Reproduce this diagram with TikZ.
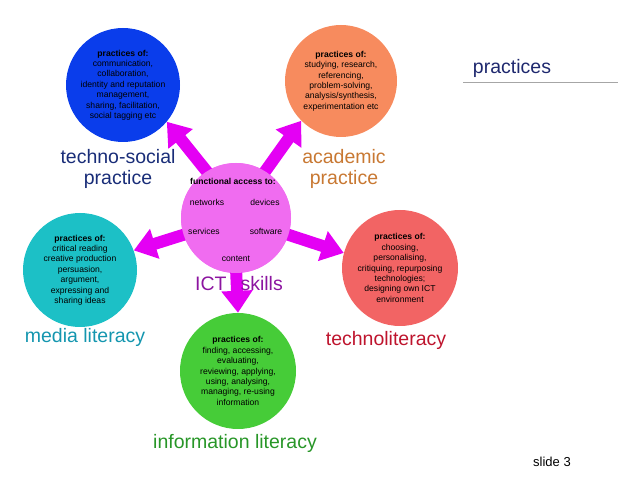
\documentclass[tikz,border=0pt]{standalone}
\usepackage{fontspec}
\setmainfont{Liberation Sans}
\usetikzlibrary{arrows.meta}
\definecolor{cblue}{HTML}{0A3DEB}
\definecolor{corange}{HTML}{F78B5E}
\definecolor{cteal}{HTML}{1CC0C6}
\definecolor{cred}{HTML}{F26464}
\definecolor{cgreen}{HTML}{46CC38}
\definecolor{cpink}{HTML}{F06CF0}
\definecolor{carrow}{HTML}{E400F4}
\tikzset{
 circ/.style={circle,minimum size=#1,inner sep=0pt,align=center,font=\fontsize{8.6}{10.4}\selectfont},
 big/.style={font=\fontsize{19.5}{21.5}\selectfont,align=center},
 small/.style={font=\fontsize{8.6}{10}\selectfont},
 arr/.style={carrow,line width=12pt,-{Triangle[width=30pt,length=22pt]}},
}
\begin{document}
\begin{tikzpicture}[x=1pt,y=-1pt]
\useasboundingbox (0,0) rectangle (638,478);
\node[circ=114pt,fill=cblue] (b) at (123,85) {\textbf{practices of:}\\communication,\\collaboration,\\identity and reputation\\management,\\sharing, facilitation,\\social tagging etc};
\node[circ=112pt,fill=corange] (o) at (341,81) {\textbf{practices of:}\\studying, research,\\referencing,\\problem-solving,\\analysis/synthesis,\\experimentation etc};
\node[circ=114pt,fill=cteal] (t) at (80,270) {\textbf{practices of:}\\critical reading\\creative production\\persuasion,\\argument,\\expressing and\\sharing ideas};
\node[circ=116pt,fill=cred] (r) at (400,268) {\textbf{practices of:}\\choosing,\\personalising,\\critiquing, repurposing\\technologies;\\designing own ICT\\environment};
\node[circ=116pt,fill=cgreen] (g) at (238,371) {\textbf{practices of:}\\finding, accessing,\\evaluating,\\reviewing, applying,\\using, analysing,\\managing, re-using\\information};
\node[circ=110pt,fill=cpink] (c) at (236,218) {};
\draw[arr] (c.center)++(-28,-45) -- (b.-40);
\draw[arr] (c.center)++(28,-45) -- (o.-135);
\draw[arr] (c.center)++(-50,16) -- (t.20);
\draw[arr] (c.center)++(50,16) -- (r.165);
\draw[arr] (c.center)++(0,50) -- (g.north);
\fill[cpink] (c.center) circle (55pt);
\node[small,font=\fontsize{8.6}{10}\selectfont\bfseries] (fa) at (233,181) {functional access to:};
\node[small] (n1) at (207,202) {networks};
\node[small] (n2) at (265,202) {devices};
\node[small] (n3) at (204,231) {services};
\node[small] (n4) at (266,231) {software};
\node[small] (n5) at (236,259) {content};
\node[big,text={rgb,255:red,25;green,45;blue,120}] (l1) at (118,169) {techno-social\\practice};
\node[big,text={rgb,255:red,200;green,120;blue,50}] (l2) at (344,169) {academic\\practice};
\node[big,text={rgb,255:red,140;green,20;blue,160}] (l3) at (239,284) {ICT\hspace{14pt}skills};
\node[big,text={rgb,255:red,20;green,150;blue,175}] (l4) at (85,337) {media literacy};
\node[big,text={rgb,255:red,190;green,20;blue,45}] (l5) at (386,340) {technoliteracy};
\node[big,text={rgb,255:red,40;green,150;blue,40}] (l6) at (235,443) {information literacy};
\node[big,text={rgb,255:red,30;green,40;blue,110}] (pr) at (512,68) {practices};
\draw[gray!70,line width=0.6pt] (463,82) -- (618,82);
\node[font=\fontsize{13}{15}\selectfont] (sl) at (552,462) {slide 3};
\end{tikzpicture}
\end{document}
